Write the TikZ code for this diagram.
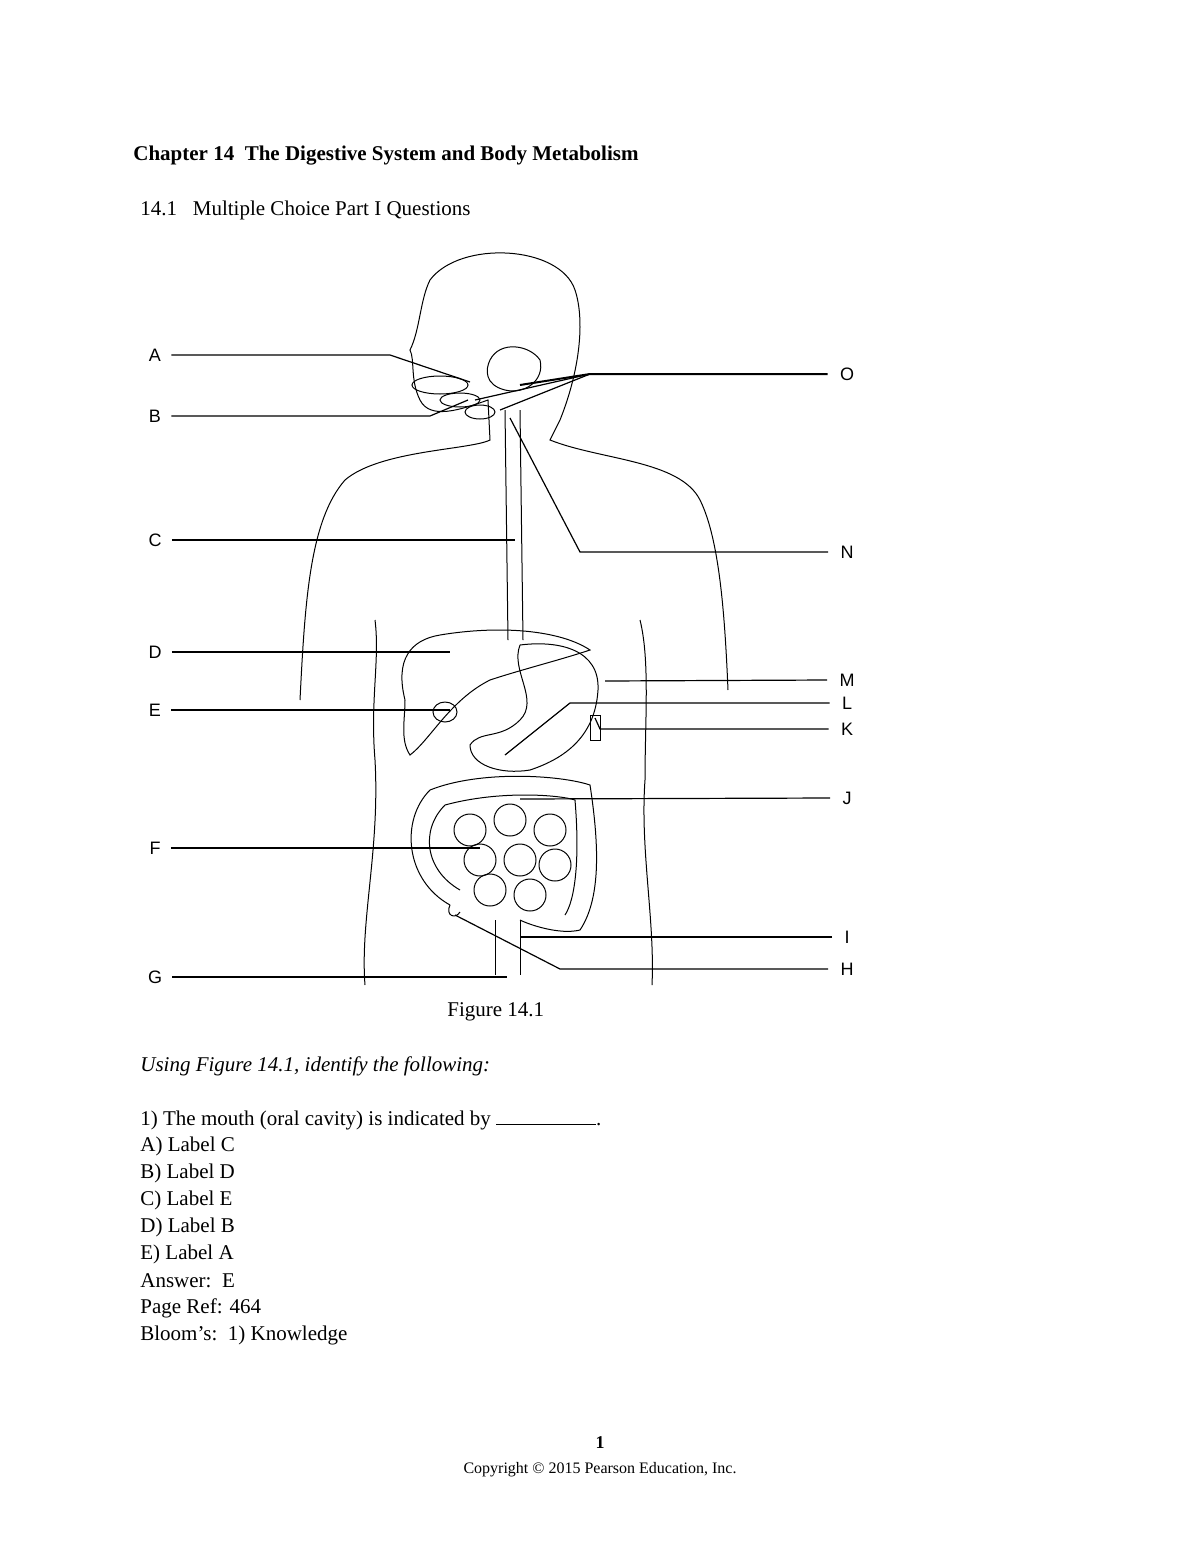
\documentclass[tikz,border=0pt]{standalone}
\usepackage{fontspec}
\setmainfont{Liberation Serif}
\setsansfont{Liberation Sans}
\begin{document}
\begin{tikzpicture}[x=0.5pt,y=-0.5pt,
 lead/.style={line width=0.6pt},
 body/.style={line width=0.5pt},
 lab/.style={font=\sffamily\fontsize{9}{10}\selectfont,inner sep=1pt},
 txt/.style={anchor=west,inner sep=0pt,font=\fontsize{10.5}{12}\selectfont}]
\useasboundingbox (0,0) rectangle (1200,1553);
% header
\node[txt,font=\bfseries\fontsize{10.5}{12}\selectfont] (title) at (133,156) {Chapter 14\ \ The Digestive System and Body Metabolism};
\node[txt] (sub) at (140,210) {14.1\ \ \ Multiple Choice Part I Questions};
% body outline
\draw[body] (300,700) .. controls (305,600) and (310,520) .. (345,480) .. controls (380,450) and (470,450) .. (490,440) -- (488,400)
  .. controls (460,410) and (430,420) .. (420,400) .. controls (410,380) and (415,360) .. (410,350)
  .. controls (420,330) and (420,300) .. (430,280) .. controls (460,240) and (560,245) .. (575,290)
  .. controls (585,320) and (580,370) .. (560,420) -- (550,440) .. controls (600,460) and (680,460) .. (700,500)
  .. controls (720,540) and (725,620) .. (728,690);
\draw[body] (375,620) .. controls (380,660) and (370,700) .. (375,760) .. controls (380,850) and (360,920) .. (365,985);
\draw[body] (640,620) .. controls (650,660) and (645,720) .. (645,780) .. controls (640,850) and (655,920) .. (652,985);
% esophagus
\draw[body] (505,410) -- (508,640); \draw[body] (520,410) -- (523,640);
% mouth / salivary
\draw[body] (490,360) .. controls (500,340) and (530,345) .. (540,360) .. controls (545,380) and (525,395) .. (505,390) .. controls (485,385) and (485,370) .. (490,360);
\draw[body] (440,385) ellipse (28 and 9); \draw[body] (460,400) ellipse (20 and 7); \draw[body] (480,412) ellipse (15 and 7);
% liver
\draw[body] (405,700) .. controls (395,660) and (410,640) .. (440,635) .. controls (500,625) and (560,630) .. (590,650) .. controls (560,660) and (520,670) .. (490,680) .. controls (450,700) and (430,740) .. (410,755) .. controls (400,740) and (405,720) .. (405,700);
% gallbladder
\draw[body] (445,712) ellipse (12 and 10);
% stomach
\draw[body] (520,645) .. controls (560,640) and (600,650) .. (598,690) .. controls (595,740) and (560,760) .. (530,770) .. controls (500,775) and (470,765) .. (470,745) .. controls (480,730) and (500,740) .. (520,720) .. controls (540,700) and (510,670) .. (520,645);
% spleen
\draw[body] (590,715) rectangle (600,740);
% large intestine
\draw[body] (430,790) .. controls (480,770) and (560,775) .. (590,785) .. controls (600,850) and (600,900) .. (580,930) .. controls (560,935) and (530,925) .. (520,920);
\draw[body] (430,790) .. controls (400,820) and (405,880) .. (450,905);
\draw[body] (445,805) .. controls (500,790) and (560,795) .. (575,800) .. controls (580,860) and (575,900) .. (565,915);
\draw[body] (445,805) .. controls (420,830) and (425,870) .. (460,890);
% small intestine loops
\foreach \x/\y in {470/830,510/820,550/830,480/860,520/860,555/865,490/890,530/895}
  \draw[body] (\x,\y) circle (16);
% rectum, appendix
\draw[body] (495,920) -- (495,975); \draw[body] (520,920) -- (520,975);
\draw[body] (450,905) .. controls (445,915) and (455,920) .. (460,912);
% leaders
\coordinate (pA) at (470,382); \coordinate (pB) at (468,400);
\coordinate (pO1) at (520,385); \coordinate (pO2) at (475,400); \coordinate (pO3) at (500,410);
\coordinate (pN) at (510,418); \coordinate (pC) at (515,540); \coordinate (pD) at (450,652);
\coordinate (pE) at (450,710); \coordinate (pF) at (480,848); \coordinate (pG) at (507,977);
\coordinate (pM) at (605,681); \coordinate (pL) at (505,755); \coordinate (pK) at (595,718);
\coordinate (pJ) at (520,799); \coordinate (pI) at (520,937); \coordinate (pH) at (455,915);
\node[lab] (A) at (155,355) {A}; \draw[lead] (A.east)+(8,0) -- (390,355) -- (pA);
\node[lab] (B) at (155,416) {B}; \draw[lead] (B.east)+(8,0) -- (430,416) -- (pB);
\node[lab] (C) at (155,540) {C}; \draw[lead] (C.east)+(8,0) -- (pC);
\node[lab] (D) at (155,652) {D}; \draw[lead] (D.east)+(8,0) -- (pD);
\node[lab] (E) at (155,710) {E}; \draw[line width=1.2pt] (E.east)+(8,0) -- (pE);
\node[lab] (F) at (155,848) {F}; \draw[lead] (F.east)+(8,0) -- (pF);
\node[lab] (G) at (155,977) {G}; \draw[lead] (G.east)+(8,0) -- (pG);
\node[lab] (O) at (847,374) {O}; \draw[line width=1pt] (O.west)+(-10,0) -- (590,374) -- (pO1); \draw[lead] (590,374) -- (pO2); \draw[lead] (590,374) -- (pO3);
\node[lab] (N) at (847,552) {N}; \draw[lead] (N.west)+(-10,0) -- (580,552) -- (pN);
\node[lab] (M) at (847,680) {M}; \draw[lead] (M.west)+(-10,0) -- (pM);
\node[lab] (L) at (847,703) {L}; \draw[lead] (L.west)+(-10,0) -- (570,703) -- (pL);
\node[lab] (K) at (847,729) {K}; \draw[lead] (K.west)+(-10,0) -- (600,729) -- (pK);
\node[lab] (J) at (847,798) {J}; \draw[lead] (J.west)+(-10,0) -- (pJ);
\node[lab] (I) at (847,937) {I}; \draw[line width=1pt] (I.west)+(-10,0) -- (pI);
\node[lab] (H) at (847,969) {H}; \draw[lead] (H.west)+(-10,0) -- (560,969) -- (pH);
\node[txt] (cap) at (447,1012) {Figure 14.1};
% question
\node[txt,font=\itshape\fontsize{10.5}{12}\selectfont] (q0) at (140,1066) {Using Figure 14.1, identify the following:};
\node[txt] (q1) at (140,1120) {1) The mouth (oral cavity) is indicated by \rule{50pt}{0.4pt}.};
\node[txt] (q2) at (140,1146) {A) Label C};
\node[txt] (q3) at (140,1173) {B) Label D};
\node[txt] (q4) at (140,1200) {C) Label E};
\node[txt] (q5) at (140,1227) {D) Label B};
\node[txt] (q6) at (140,1254) {E) Label A};
\node[txt] (q7) at (140,1281) {Answer:\ \ E};
\node[txt] (q8) at (140,1308) {Page Ref: 464};
\node[txt] (q9) at (140,1335) {Bloom's:\ \ 1) Knowledge};
\node[font=\bfseries\fontsize{9}{10}\selectfont] (pg) at (600,1443) {1};
\node[font=\fontsize{8}{10}\selectfont] (cp) at (600,1470) {Copyright \textcopyright\ 2015 Pearson Education, Inc.};
\end{tikzpicture}
\end{document}
